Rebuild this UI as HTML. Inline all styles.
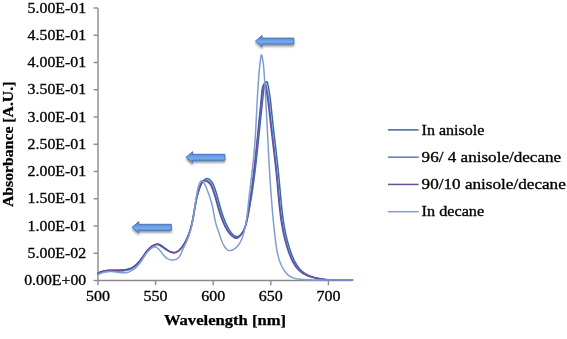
<!DOCTYPE html>
<html lang="en"><head><meta charset="utf-8"><title>Absorbance spectra</title>
<style>html,body{margin:0;padding:0;background:#fff;}body{width:567px;height:339px;overflow:hidden;}svg{display:block;}</style>
</head><body>
<svg width="567" height="339" viewBox="0 0 567 339">
<defs>
<linearGradient id="ag" x1="0" y1="0" x2="0" y2="1"><stop offset="0" stop-color="#3f7dd2"/><stop offset="0.55" stop-color="#78a8e8"/><stop offset="1" stop-color="#5c93dc"/></linearGradient>
<filter id="sh" x="-20%" y="-40%" width="140%" height="220%"><feGaussianBlur in="SourceAlpha" stdDeviation="1.3"/><feOffset dx="0" dy="2"/><feComponentTransfer><feFuncA type="linear" slope="0.42"/></feComponentTransfer><feMerge><feMergeNode/><feMergeNode in="SourceGraphic"/></feMerge></filter>
</defs>
<rect width="567" height="339" fill="#fff"/>
<g stroke="#8a8a8a" stroke-width="1.4" fill="none">
<path d="M98.0,7.9 V280.5 H352"/>
<path d="M93.6,8.0 H98.0"/>
<path d="M93.6,35.25 H98.0"/>
<path d="M93.6,62.5 H98.0"/>
<path d="M93.6,89.75 H98.0"/>
<path d="M93.6,117.0 H98.0"/>
<path d="M93.6,144.25 H98.0"/>
<path d="M93.6,171.5 H98.0"/>
<path d="M93.6,198.75 H98.0"/>
<path d="M93.6,226.0 H98.0"/>
<path d="M93.6,253.25 H98.0"/>
<path d="M93.6,280.5 H98.0"/>
<path d="M98.0,280.5 V285.2"/>
<path d="M155.6,280.5 V285.2"/>
<path d="M213.2,280.5 V285.2"/>
<path d="M270.8,280.5 V285.2"/>
<path d="M328.4,280.5 V285.2"/>
</g>
<g font-family="'Liberation Serif', serif" font-size="14" fill="#000" stroke="#000" stroke-width="0.3">
<text x="86.2" y="12.6" text-anchor="end" textLength="58.6" lengthAdjust="spacingAndGlyphs">5.00E-01</text>
<text x="86.2" y="39.9" text-anchor="end" textLength="58.6" lengthAdjust="spacingAndGlyphs">4.50E-01</text>
<text x="86.2" y="67.1" text-anchor="end" textLength="58.6" lengthAdjust="spacingAndGlyphs">4.00E-01</text>
<text x="86.2" y="94.3" text-anchor="end" textLength="58.6" lengthAdjust="spacingAndGlyphs">3.50E-01</text>
<text x="86.2" y="121.6" text-anchor="end" textLength="58.6" lengthAdjust="spacingAndGlyphs">3.00E-01</text>
<text x="86.2" y="148.8" text-anchor="end" textLength="58.6" lengthAdjust="spacingAndGlyphs">2.50E-01</text>
<text x="86.2" y="176.1" text-anchor="end" textLength="58.6" lengthAdjust="spacingAndGlyphs">2.00E-01</text>
<text x="86.2" y="203.3" text-anchor="end" textLength="58.6" lengthAdjust="spacingAndGlyphs">1.50E-01</text>
<text x="86.2" y="230.6" text-anchor="end" textLength="58.6" lengthAdjust="spacingAndGlyphs">1.00E-01</text>
<text x="86.2" y="257.9" text-anchor="end" textLength="58.6" lengthAdjust="spacingAndGlyphs">5.00E-02</text>
<text x="86.2" y="285.1" text-anchor="end" textLength="62.0" lengthAdjust="spacingAndGlyphs">0.00E+00</text>
<text x="98.0" y="300.7" text-anchor="middle" textLength="24.0" lengthAdjust="spacingAndGlyphs">500</text>
<text x="155.6" y="300.7" text-anchor="middle" textLength="24.0" lengthAdjust="spacingAndGlyphs">550</text>
<text x="213.2" y="300.7" text-anchor="middle" textLength="24.0" lengthAdjust="spacingAndGlyphs">600</text>
<text x="270.8" y="300.7" text-anchor="middle" textLength="24.0" lengthAdjust="spacingAndGlyphs">650</text>
<text x="328.4" y="300.7" text-anchor="middle" textLength="24.0" lengthAdjust="spacingAndGlyphs">700</text>
</g>
<g font-family="'Liberation Serif', serif" font-size="14" font-weight="bold" fill="#000" stroke="#000" stroke-width="0.25">
<text x="163.9" y="324.8" textLength="122.2" lengthAdjust="spacingAndGlyphs">Wavelength [nm]</text>
<text transform="translate(13.3,207.0) rotate(-90)" x="0" y="0" textLength="125.4" lengthAdjust="spacingAndGlyphs">Absorbance [A.U.]</text>
</g>
<g fill="none" stroke-width="1.5" stroke-linejoin="round" stroke-linecap="round">
<path stroke="#3a68a6" d="M97.68,273.30 L98.57,272.84 L99.46,272.43 L100.34,272.06 L101.24,271.74 L102.13,271.45 L103.02,271.21 L103.92,271.00 L104.82,270.82 L105.73,270.67 L106.63,270.55 L107.54,270.45 L108.45,270.37 L109.36,270.31 L110.28,270.27 L111.19,270.24 L112.12,270.23 L113.04,270.22 L113.97,270.21 L114.89,270.21 L115.83,270.21 L116.76,270.21 L117.70,270.20 L118.64,270.19 L119.58,270.16 L120.53,270.12 L121.48,270.07 L122.42,270.00 L123.37,269.91 L124.31,269.79 L125.24,269.66 L126.17,269.50 L127.08,269.31 L127.98,269.09 L128.87,268.84 L129.74,268.55 L130.59,268.23 L131.42,267.87 L132.23,267.47 L133.01,267.03 L133.77,266.55 L134.51,266.03 L135.22,265.48 L135.92,264.90 L136.60,264.28 L137.26,263.64 L137.90,262.97 L138.54,262.28 L139.15,261.56 L139.76,260.83 L140.36,260.09 L140.94,259.33 L141.52,258.56 L142.09,257.78 L142.66,257.00 L143.22,256.21 L143.78,255.43 L144.33,254.64 L144.89,253.86 L145.45,253.08 L146.01,252.31 L146.58,251.56 L147.16,250.82 L147.76,250.10 L148.37,249.40 L148.99,248.73 L149.64,248.09 L150.31,247.47 L151.01,246.89 L151.74,246.35 L152.50,245.85 L153.30,245.40 L154.13,244.99 L155.00,244.63 L155.92,244.33 L156.84,244.12 L157.73,244.04 L158.56,244.12 L159.35,244.34 L160.11,244.67 L160.86,245.11 L161.60,245.62 L162.37,246.17 L163.15,246.76 L163.96,247.37 L164.79,247.98 L165.64,248.60 L166.49,249.20 L167.36,249.79 L168.23,250.34 L169.11,250.85 L169.98,251.31 L170.85,251.70 L171.72,252.02 L172.57,252.26 L173.41,252.40 L174.23,252.44 L175.03,252.37 L175.81,252.19 L176.58,251.92 L177.32,251.56 L178.04,251.13 L178.75,250.61 L179.43,250.04 L180.09,249.40 L180.74,248.72 L181.36,247.99 L181.97,247.23 L182.55,246.45 L183.12,245.64 L183.66,244.82 L184.19,244.00 L184.70,243.17 L185.18,242.34 L185.65,241.50 L186.10,240.66 L186.54,239.82 L186.95,238.97 L187.36,238.12 L187.74,237.26 L188.11,236.40 L188.47,235.54 L188.81,234.68 L189.14,233.81 L189.45,232.93 L189.75,232.06 L190.04,231.18 L190.32,230.30 L190.59,229.41 L190.84,228.53 L191.09,227.64 L191.33,226.75 L191.56,225.85 L191.77,224.96 L191.99,224.06 L192.19,223.16 L192.39,222.25 L192.58,221.35 L192.76,220.45 L192.94,219.54 L193.11,218.63 L193.28,217.72 L193.45,216.81 L193.61,215.90 L193.77,214.98 L193.93,214.07 L194.08,213.15 L194.23,212.24 L194.39,211.32 L194.54,210.41 L194.69,209.49 L194.84,208.57 L195.00,207.65 L195.16,206.74 L195.31,205.82 L195.48,204.90 L195.64,203.99 L195.81,203.07 L195.98,202.16 L196.16,201.24 L196.35,200.33 L196.54,199.42 L196.74,198.51 L196.95,197.60 L197.16,196.69 L197.38,195.79 L197.62,194.89 L197.86,193.98 L198.11,193.09 L198.37,192.19 L198.65,191.29 L198.94,190.40 L199.24,189.51 L199.55,188.63 L199.88,187.75 L200.22,186.87 L200.57,185.99 L200.95,185.12 L201.33,184.25 L201.75,183.39 L202.20,182.55 L202.70,181.75 L203.25,180.99 L203.88,180.27 L204.59,179.63 L205.35,179.10 L206.15,178.73 L206.96,178.58 L207.78,178.67 L208.57,178.98 L209.34,179.46 L210.07,180.06 L210.74,180.73 L211.35,181.45 L211.91,182.21 L212.42,183.00 L212.88,183.83 L213.31,184.68 L213.71,185.55 L214.07,186.43 L214.42,187.33 L214.74,188.23 L215.06,189.13 L215.36,190.03 L215.66,190.93 L215.95,191.83 L216.23,192.73 L216.50,193.63 L216.77,194.52 L217.03,195.42 L217.28,196.31 L217.53,197.20 L217.78,198.10 L218.03,198.99 L218.27,199.88 L218.51,200.77 L218.75,201.66 L218.99,202.55 L219.22,203.44 L219.46,204.33 L219.71,205.22 L219.95,206.11 L220.20,207.00 L220.45,207.89 L220.70,208.78 L220.96,209.67 L221.23,210.56 L221.50,211.45 L221.78,212.34 L222.06,213.23 L222.35,214.12 L222.65,215.01 L222.96,215.89 L223.27,216.77 L223.59,217.65 L223.92,218.52 L224.25,219.40 L224.60,220.26 L224.95,221.13 L225.31,221.99 L225.68,222.84 L226.06,223.69 L226.45,224.53 L226.85,225.37 L227.26,226.20 L227.68,227.02 L228.12,227.84 L228.56,228.65 L229.01,229.45 L229.49,230.24 L229.99,231.02 L230.53,231.78 L231.11,232.52 L231.74,233.24 L232.44,233.94 L233.19,234.62 L234.01,235.26 L234.88,235.81 L235.77,236.24 L236.65,236.50 L237.51,236.54 L238.33,236.35 L239.10,235.95 L239.82,235.40 L240.50,234.75 L241.14,234.04 L241.73,233.32 L242.29,232.57 L242.81,231.81 L243.29,231.02 L243.74,230.22 L244.15,229.40 L244.54,228.57 L244.90,227.73 L245.23,226.87 L245.54,226.00 L245.83,225.12 L246.10,224.23 L246.36,223.34 L246.59,222.43 L246.82,221.53 L247.03,220.61 L247.23,219.69 L247.43,218.77 L247.62,217.85 L247.81,216.93 L247.99,216.01 L248.18,215.09 L248.36,214.17 L248.54,213.24 L248.72,212.32 L248.89,211.40 L249.07,210.48 L249.24,209.56 L249.41,208.64 L249.58,207.72 L249.74,206.80 L249.91,205.88 L250.07,204.96 L250.23,204.04 L250.39,203.12 L250.55,202.20 L250.71,201.28 L250.86,200.36 L251.01,199.45 L251.16,198.53 L251.31,197.61 L251.46,196.69 L251.60,195.77 L251.75,194.85 L251.89,193.93 L252.03,193.01 L252.17,192.09 L252.31,191.17 L252.45,190.26 L252.58,189.34 L252.72,188.42 L252.85,187.50 L252.98,186.58 L253.11,185.66 L253.24,184.74 L253.37,183.82 L253.50,182.90 L253.62,181.98 L253.75,181.07 L253.87,180.15 L253.99,179.23 L254.11,178.31 L254.23,177.39 L254.35,176.47 L254.47,175.55 L254.59,174.63 L254.70,173.71 L254.82,172.79 L254.93,171.87 L255.04,170.95 L255.16,170.03 L255.27,169.10 L255.38,168.18 L255.49,167.26 L255.60,166.34 L255.70,165.42 L255.81,164.50 L255.92,163.58 L256.02,162.65 L256.13,161.73 L256.23,160.81 L256.34,159.89 L256.44,158.96 L256.54,158.04 L256.65,157.12 L256.75,156.19 L256.85,155.27 L256.95,154.34 L257.05,153.42 L257.15,152.49 L257.25,151.57 L257.35,150.64 L257.45,149.72 L257.55,148.79 L257.65,147.86 L257.75,146.94 L257.84,146.01 L257.94,145.08 L258.04,144.16 L258.14,143.23 L258.23,142.30 L258.33,141.37 L258.43,140.45 L258.52,139.52 L258.62,138.59 L258.72,137.66 L258.81,136.74 L258.91,135.81 L259.00,134.88 L259.10,133.95 L259.19,133.03 L259.29,132.10 L259.38,131.17 L259.48,130.24 L259.57,129.32 L259.67,128.39 L259.76,127.46 L259.86,126.54 L259.95,125.61 L260.05,124.68 L260.15,123.76 L260.24,122.83 L260.34,121.91 L260.43,120.98 L260.53,120.06 L260.62,119.13 L260.72,118.21 L260.82,117.29 L260.91,116.36 L261.01,115.44 L261.11,114.52 L261.20,113.60 L261.30,112.68 L261.40,111.76 L261.49,110.84 L261.59,109.92 L261.69,109.00 L261.79,108.08 L261.89,107.16 L261.99,106.24 L262.08,105.32 L262.18,104.40 L262.28,103.48 L262.38,102.56 L262.47,101.64 L262.57,100.72 L262.66,99.80 L262.76,98.87 L262.85,97.94 L262.94,97.01 L263.03,96.08 L263.12,95.15 L263.21,94.22 L263.30,93.28 L263.40,92.34 L263.51,91.40 L263.63,90.45 L263.77,89.50 L263.94,88.55 L264.13,87.60 L264.35,86.65 L264.62,85.69 L264.92,84.73 L265.26,83.79 L265.63,82.92 L266.01,82.22 L266.38,81.76 L266.73,81.64 L267.04,81.87 L267.32,82.40 L267.57,83.15 L267.80,84.07 L268.01,85.07 L268.22,86.09 L268.41,87.10 L268.60,88.10 L268.78,89.10 L268.95,90.09 L269.12,91.08 L269.28,92.06 L269.43,93.03 L269.58,94.00 L269.72,94.96 L269.86,95.91 L269.99,96.86 L270.12,97.81 L270.24,98.75 L270.36,99.69 L270.47,100.63 L270.58,101.56 L270.69,102.48 L270.79,103.41 L270.89,104.33 L270.99,105.25 L271.09,106.17 L271.19,107.08 L271.28,108.00 L271.37,108.91 L271.47,109.82 L271.56,110.73 L271.65,111.64 L271.74,112.55 L271.83,113.46 L271.92,114.37 L272.02,115.28 L272.11,116.19 L272.21,117.11 L272.30,118.02 L272.40,118.93 L272.50,119.84 L272.60,120.76 L272.70,121.67 L272.80,122.59 L272.90,123.50 L273.00,124.42 L273.10,125.34 L273.20,126.25 L273.31,127.17 L273.41,128.09 L273.51,129.01 L273.62,129.93 L273.72,130.84 L273.83,131.76 L273.93,132.68 L274.04,133.60 L274.15,134.53 L274.25,135.45 L274.36,136.37 L274.47,137.29 L274.57,138.21 L274.68,139.13 L274.79,140.06 L274.90,140.98 L275.00,141.90 L275.11,142.83 L275.22,143.75 L275.33,144.68 L275.44,145.60 L275.54,146.53 L275.65,147.45 L275.76,148.38 L275.87,149.30 L275.98,150.23 L276.08,151.15 L276.19,152.08 L276.30,153.01 L276.40,153.93 L276.51,154.86 L276.62,155.79 L276.72,156.72 L276.83,157.64 L276.93,158.57 L277.04,159.50 L277.14,160.43 L277.24,161.36 L277.35,162.28 L277.45,163.21 L277.55,164.14 L277.65,165.07 L277.75,166.00 L277.85,166.93 L277.95,167.86 L278.05,168.78 L278.15,169.71 L278.24,170.64 L278.34,171.57 L278.43,172.50 L278.53,173.43 L278.62,174.36 L278.71,175.29 L278.80,176.22 L278.90,177.15 L278.98,178.08 L279.07,179.01 L279.16,179.94 L279.25,180.87 L279.33,181.79 L279.42,182.72 L279.50,183.65 L279.58,184.58 L279.66,185.51 L279.75,186.44 L279.83,187.37 L279.91,188.30 L279.99,189.23 L280.07,190.15 L280.15,191.08 L280.23,192.01 L280.31,192.94 L280.39,193.87 L280.48,194.79 L280.56,195.72 L280.64,196.65 L280.72,197.57 L280.81,198.50 L280.89,199.43 L280.98,200.35 L281.07,201.28 L281.16,202.20 L281.25,203.13 L281.34,204.05 L281.43,204.98 L281.53,205.90 L281.62,206.82 L281.72,207.75 L281.82,208.67 L281.92,209.59 L282.03,210.51 L282.13,211.44 L282.24,212.36 L282.35,213.28 L282.47,214.20 L282.58,215.12 L282.70,216.04 L282.83,216.96 L282.95,217.87 L283.08,218.79 L283.21,219.71 L283.35,220.63 L283.48,221.54 L283.62,222.46 L283.77,223.37 L283.92,224.29 L284.07,225.20 L284.23,226.11 L284.39,227.03 L284.55,227.94 L284.72,228.85 L284.89,229.76 L285.07,230.67 L285.25,231.58 L285.44,232.49 L285.63,233.40 L285.82,234.30 L286.02,235.21 L286.23,236.12 L286.44,237.02 L286.65,237.92 L286.88,238.83 L287.10,239.73 L287.33,240.63 L287.57,241.53 L287.81,242.43 L288.06,243.33 L288.32,244.23 L288.58,245.13 L288.85,246.03 L289.12,246.92 L289.40,247.82 L289.68,248.71 L289.98,249.60 L290.28,250.50 L290.58,251.39 L290.89,252.28 L291.21,253.17 L291.54,254.05 L291.88,254.94 L292.22,255.82 L292.57,256.69 L292.94,257.57 L293.31,258.43 L293.70,259.29 L294.10,260.13 L294.51,260.97 L294.94,261.80 L295.38,262.61 L295.84,263.42 L296.32,264.21 L296.81,264.98 L297.32,265.74 L297.84,266.49 L298.39,267.21 L298.95,267.92 L299.54,268.61 L300.15,269.28 L300.78,269.93 L301.43,270.55 L302.11,271.15 L302.81,271.73 L303.53,272.28 L304.28,272.81 L305.05,273.31 L305.85,273.79 L306.66,274.25 L307.49,274.68 L308.34,275.09 L309.21,275.48 L310.09,275.84 L310.98,276.19 L311.89,276.52 L312.80,276.82 L313.72,277.11 L314.65,277.38 L315.58,277.64 L316.51,277.87 L317.45,278.09 L318.39,278.30 L319.32,278.49 L320.26,278.67 L321.19,278.83 L322.11,278.98 L323.04,279.11 L323.96,279.24 L324.88,279.35 L325.80,279.46 L326.71,279.55 L327.63,279.63 L328.54,279.70 L329.45,279.77 L330.36,279.82 L331.27,279.87 L332.18,279.91 L333.09,279.94 L334.00,279.97 L334.92,279.99 L335.83,280.01 L336.74,280.02 L337.65,280.03 L338.57,280.03 L339.48,280.03 L340.40,280.03 L341.32,280.02 L342.25,280.02 L343.17,280.01 L344.10,280.00 L345.03,279.99 L345.97,279.99 L346.90,279.98 L347.85,279.98 L348.79,279.97 L349.74,279.97 L350.70,279.98 L351.66,279.98 L352.62,279.99"/>
<path stroke="#4a80c6" d="M97.68,274.20 L98.56,273.74 L99.45,273.33 L100.34,272.97 L101.22,272.65 L102.11,272.37 L103.01,272.12 L103.90,271.92 L104.80,271.74 L105.70,271.59 L106.61,271.47 L107.51,271.38 L108.42,271.30 L109.33,271.25 L110.24,271.21 L111.16,271.18 L112.08,271.17 L113.00,271.16 L113.92,271.16 L114.85,271.16 L115.78,271.16 L116.71,271.16 L117.64,271.16 L118.58,271.15 L119.52,271.12 L120.47,271.09 L121.41,271.03 L122.36,270.96 L123.30,270.88 L124.24,270.77 L125.17,270.63 L126.09,270.47 L127.00,270.29 L127.90,270.07 L128.78,269.82 L129.65,269.54 L130.50,269.20 L131.33,268.81 L132.13,268.38 L132.91,267.91 L133.67,267.40 L134.41,266.86 L135.12,266.28 L135.82,265.66 L136.49,265.02 L137.15,264.36 L137.80,263.66 L138.43,262.95 L139.04,262.21 L139.65,261.46 L140.24,260.69 L140.83,259.91 L141.40,259.12 L141.97,258.32 L142.54,257.52 L143.10,256.71 L143.65,255.90 L144.21,255.09 L144.76,254.29 L145.32,253.50 L145.88,252.72 L146.45,251.96 L147.03,251.21 L147.62,250.48 L148.23,249.77 L148.85,249.09 L149.50,248.43 L150.16,247.81 L150.82,247.23 L151.51,246.69 L152.23,246.19 L152.98,245.73 L153.77,245.32 L154.60,244.96 L155.46,244.65 L156.34,244.44 L157.18,244.36 L158.01,244.44 L158.82,244.64 L159.60,244.96 L160.36,245.38 L161.12,245.88 L161.90,246.44 L162.70,247.02 L163.53,247.62 L164.37,248.24 L165.23,248.85 L166.11,249.45 L166.99,250.03 L167.88,250.58 L168.78,251.09 L169.67,251.54 L170.56,251.93 L171.44,252.25 L172.31,252.48 L173.16,252.62 L174.00,252.65 L174.82,252.58 L175.60,252.40 L176.37,252.12 L177.11,251.75 L177.83,251.31 L178.54,250.79 L179.22,250.20 L179.88,249.56 L180.53,248.87 L181.15,248.14 L181.76,247.37 L182.34,246.58 L182.91,245.77 L183.45,244.94 L183.98,244.12 L184.49,243.28 L184.97,242.45 L185.44,241.60 L185.89,240.76 L186.33,239.91 L186.74,239.06 L187.15,238.20 L187.53,237.34 L187.90,236.48 L188.26,235.61 L188.60,234.74 L188.93,233.87 L189.24,232.99 L189.54,232.12 L189.83,231.23 L190.11,230.35 L190.38,229.46 L190.63,228.57 L190.88,227.68 L191.12,226.79 L191.35,225.89 L191.56,224.99 L191.78,224.09 L191.98,223.19 L192.18,222.28 L192.37,221.38 L192.55,220.47 L192.73,219.56 L192.90,218.65 L193.07,217.74 L193.24,216.83 L193.40,215.91 L193.56,215.00 L193.72,214.08 L193.87,213.17 L194.02,212.25 L194.18,211.33 L194.33,210.41 L194.48,209.49 L194.63,208.58 L194.79,207.66 L194.94,206.74 L195.09,205.83 L195.25,204.92 L195.40,204.02 L195.57,203.11 L195.73,202.21 L195.91,201.31 L196.08,200.41 L196.27,199.51 L196.46,198.61 L196.65,197.72 L196.86,196.82 L197.07,195.93 L197.30,195.05 L197.53,194.16 L197.77,193.28 L198.02,192.40 L198.29,191.52 L198.56,190.65 L198.85,189.78 L199.15,188.92 L199.46,188.06 L199.77,187.20 L200.07,186.36 L200.39,185.56 L200.73,184.78 L201.08,184.01 L201.47,183.26 L201.90,182.57 L202.38,181.92 L202.92,181.34 L203.52,180.84 L204.18,180.47 L204.88,180.28 L205.67,180.32 L206.45,180.41 L207.22,180.59 L207.96,180.94 L208.67,181.41 L209.32,181.97 L209.91,182.59 L210.46,183.26 L210.95,183.98 L211.40,184.73 L211.82,185.52 L212.20,186.33 L212.56,187.16 L212.89,188.00 L213.21,188.86 L213.52,189.71 L213.83,190.56 L214.13,191.42 L214.42,192.27 L214.70,193.13 L214.98,193.98 L215.25,194.88 L215.51,195.77 L215.77,196.67 L216.02,197.57 L216.27,198.47 L216.52,199.36 L216.76,200.26 L217.01,201.16 L217.25,202.05 L217.49,202.94 L217.73,203.84 L217.97,204.73 L218.22,205.63 L218.46,206.52 L218.71,207.41 L218.97,208.31 L219.22,209.20 L219.49,210.10 L219.76,210.99 L220.03,211.89 L220.31,212.78 L220.60,213.67 L220.89,214.57 L221.19,215.46 L221.50,216.34 L221.82,217.23 L222.14,218.11 L222.47,219.00 L222.81,219.87 L223.16,220.75 L223.52,221.62 L223.88,222.48 L224.26,223.34 L224.64,224.20 L225.04,225.05 L225.44,225.89 L225.86,226.73 L226.28,227.56 L226.73,228.38 L227.21,229.20 L227.70,230.01 L228.22,230.82 L228.76,231.65 L229.35,232.47 L229.98,233.27 L230.67,234.06 L231.42,234.83 L232.25,235.59 L233.14,236.31 L234.08,236.96 L235.05,237.48 L236.01,237.83 L236.93,237.76 L237.82,237.46 L238.65,236.97 L239.43,236.33 L240.17,235.59 L240.86,234.81 L241.50,234.01 L242.07,233.19 L242.59,232.36 L243.06,231.52 L243.50,230.66 L243.91,229.79 L244.30,228.91 L244.65,228.02 L244.98,227.13 L245.29,226.22 L245.57,225.30 L245.84,224.38 L246.08,223.45 L246.32,222.52 L246.54,221.58 L246.75,220.64 L246.94,219.70 L247.12,218.77 L247.30,217.85 L247.47,216.93 L247.65,216.01 L247.82,215.09 L247.99,214.17 L248.15,213.24 L248.32,212.32 L248.48,211.40 L248.64,210.48 L248.80,209.56 L248.96,208.64 L249.12,207.72 L249.27,206.80 L249.43,205.88 L249.58,204.96 L249.73,204.04 L249.87,203.12 L250.02,202.20 L250.17,201.28 L250.31,200.36 L250.45,199.45 L250.59,198.53 L250.73,197.61 L250.87,196.69 L251.00,195.77 L251.14,194.85 L251.27,193.93 L251.40,193.01 L251.53,192.09 L251.66,191.17 L251.79,190.26 L251.91,189.34 L252.04,188.42 L252.16,187.50 L252.28,186.58 L252.41,185.66 L252.53,184.74 L252.64,183.82 L252.76,182.90 L252.88,181.98 L252.99,181.07 L253.11,180.15 L253.22,179.23 L253.33,178.31 L253.45,177.39 L253.56,176.47 L253.67,175.55 L253.77,174.63 L253.88,173.71 L253.99,172.79 L254.10,171.87 L254.20,170.95 L254.31,170.03 L254.42,169.10 L254.53,168.18 L254.63,167.26 L254.74,166.34 L254.84,165.42 L254.95,164.50 L255.05,163.58 L255.15,162.67 L255.26,161.75 L255.36,160.84 L255.46,159.92 L255.56,159.01 L255.66,158.09 L255.76,157.18 L255.86,156.26 L255.96,155.34 L256.05,154.43 L256.15,153.51 L256.25,152.59 L256.35,151.68 L256.44,150.76 L256.54,149.84 L256.63,148.92 L256.73,148.00 L256.82,147.08 L256.92,146.16 L257.01,145.25 L257.11,144.33 L257.20,143.41 L257.30,142.49 L257.39,141.57 L257.48,140.65 L257.58,139.73 L257.67,138.81 L257.76,137.89 L257.86,136.96 L257.95,136.04 L258.04,135.12 L258.13,134.20 L258.23,133.28 L258.32,132.36 L258.41,131.44 L258.50,130.52 L258.60,129.60 L258.69,128.69 L258.78,127.77 L258.87,126.85 L258.97,125.93 L259.06,125.01 L259.15,124.09 L259.24,123.17 L259.34,122.25 L259.43,121.34 L259.52,120.42 L259.61,119.50 L259.71,118.59 L259.80,117.67 L259.89,116.76 L259.99,115.84 L260.08,114.93 L260.18,114.01 L260.27,113.10 L260.36,112.18 L260.46,111.27 L260.55,110.36 L260.65,109.45 L260.75,108.54 L260.84,107.63 L260.94,106.72 L261.03,105.80 L261.11,104.89 L261.20,103.98 L261.29,103.07 L261.38,102.15 L261.46,101.24 L261.55,100.32 L261.64,99.40 L261.72,98.48 L261.80,97.56 L261.88,96.63 L261.97,95.71 L262.04,94.79 L262.13,93.89 L262.21,92.99 L262.31,92.08 L262.42,91.19 L262.55,90.29 L262.70,89.40 L262.88,88.52 L263.08,87.65 L263.32,86.80 L263.59,85.95 L263.90,85.13 L264.24,84.40 L264.58,83.84 L264.92,83.53 L265.25,83.54 L265.54,83.90 L265.81,84.54 L266.05,85.39 L266.27,86.39 L266.48,87.41 L266.68,88.33 L266.86,89.24 L267.04,90.16 L267.22,91.07 L267.39,91.98 L267.54,92.88 L267.70,93.78 L267.85,94.68 L267.99,95.57 L268.12,96.47 L268.26,97.36 L268.38,98.24 L268.51,99.13 L268.63,100.01 L268.75,100.88 L268.86,101.76 L268.98,102.63 L269.08,103.51 L269.19,104.38 L269.29,105.25 L269.39,106.12 L269.49,106.99 L269.59,107.85 L269.68,108.72 L269.77,109.58 L269.87,110.45 L269.96,111.31 L270.05,112.20 L270.14,113.10 L270.24,114.01 L270.33,114.91 L270.42,115.82 L270.52,116.72 L270.61,117.63 L270.71,118.54 L270.81,119.45 L270.91,120.35 L271.01,121.26 L271.11,122.17 L271.21,123.08 L271.31,123.99 L271.41,124.90 L271.51,125.81 L271.61,126.72 L271.72,127.63 L271.82,128.55 L271.93,129.46 L272.03,130.37 L272.14,131.29 L272.24,132.20 L272.35,133.11 L272.46,134.03 L272.56,134.94 L272.67,135.86 L272.78,136.77 L272.89,137.69 L273.00,138.60 L273.10,139.52 L273.21,140.44 L273.32,141.35 L273.43,142.27 L273.54,143.19 L273.65,144.11 L273.76,145.03 L273.86,145.94 L273.97,146.86 L274.08,147.78 L274.19,148.70 L274.30,149.62 L274.41,150.54 L274.52,151.46 L274.62,152.38 L274.73,153.30 L274.84,154.22 L274.94,155.14 L275.05,156.07 L275.16,156.99 L275.26,157.91 L275.37,158.83 L275.47,159.75 L275.58,160.67 L275.68,161.60 L275.79,162.52 L275.89,163.44 L275.99,164.37 L276.09,165.29 L276.19,166.21 L276.30,167.13 L276.40,168.06 L276.49,168.98 L276.59,169.90 L276.69,170.83 L276.79,171.75 L276.88,172.68 L276.98,173.60 L277.07,174.52 L277.16,175.45 L277.26,176.37 L277.35,177.30 L277.44,178.22 L277.53,179.15 L277.61,180.07 L277.70,180.99 L277.79,181.92 L277.87,182.84 L277.96,183.77 L278.04,184.69 L278.12,185.62 L278.20,186.54 L278.29,187.46 L278.37,188.39 L278.45,189.31 L278.53,190.24 L278.61,191.16 L278.69,192.08 L278.77,193.01 L278.85,193.93 L278.94,194.85 L279.02,195.77 L279.10,196.70 L279.18,197.62 L279.27,198.54 L279.35,199.46 L279.44,200.38 L279.53,201.30 L279.62,202.22 L279.71,203.14 L279.80,204.06 L279.89,204.98 L279.99,205.90 L280.08,206.82 L280.18,207.75 L280.28,208.67 L280.38,209.59 L280.49,210.51 L280.59,211.44 L280.70,212.36 L280.81,213.28 L280.93,214.20 L281.04,215.12 L281.16,216.04 L281.29,216.96 L281.41,217.87 L281.54,218.79 L281.67,219.71 L281.81,220.63 L281.94,221.54 L282.08,222.46 L282.23,223.37 L282.38,224.29 L282.53,225.20 L282.69,226.11 L282.85,227.03 L283.01,227.94 L283.18,228.85 L283.35,229.76 L283.53,230.67 L283.71,231.58 L283.90,232.49 L284.09,233.40 L284.28,234.30 L284.48,235.21 L284.69,236.12 L284.90,237.02 L285.11,237.92 L285.34,238.83 L285.56,239.73 L285.79,240.63 L286.03,241.53 L286.27,242.43 L286.52,243.33 L286.78,244.23 L287.04,245.13 L287.31,246.03 L287.58,246.92 L287.86,247.82 L288.14,248.71 L288.44,249.60 L288.74,250.50 L289.04,251.39 L289.35,252.28 L289.67,253.17 L290.00,254.05 L290.34,254.94 L290.68,255.82 L291.03,256.69 L291.40,257.57 L291.77,258.43 L292.16,259.29 L292.56,260.13 L292.97,260.97 L293.40,261.80 L293.84,262.61 L294.30,263.42 L294.78,264.21 L295.27,264.98 L295.78,265.74 L296.30,266.49 L296.85,267.21 L297.41,267.92 L298.00,268.61 L298.61,269.28 L299.24,269.93 L299.89,270.55 L300.57,271.15 L301.27,271.73 L301.99,272.28 L302.74,272.81 L303.51,273.31 L304.31,273.79 L305.12,274.25 L305.95,274.68 L306.80,275.09 L307.67,275.48 L308.55,275.84 L309.44,276.19 L310.35,276.52 L311.26,276.82 L312.18,277.11 L313.11,277.38 L314.04,277.64 L314.97,277.87 L315.91,278.09 L316.85,278.30 L317.78,278.49 L318.72,278.67 L319.65,278.83 L320.57,278.98 L321.50,279.11 L322.42,279.24 L323.34,279.35 L324.26,279.46 L325.17,279.55 L326.09,279.63 L327.00,279.70 L327.91,279.77 L328.85,279.82 L329.82,279.87 L330.79,279.91 L331.76,279.94 L332.73,279.97 L333.70,279.99 L334.68,280.01 L335.65,280.02 L336.62,280.03 L337.60,280.03 L338.58,280.03 L339.56,280.03 L340.54,280.02 L341.53,280.02 L342.51,280.01 L343.50,280.00 L344.50,279.99 L345.49,279.99 L346.50,279.98 L347.50,279.98 L348.51,279.97 L349.52,279.97 L350.54,279.98 L351.57,279.98 L352.60,279.99"/>
<path stroke="#6a4e9b" d="M97.68,273.30 L98.56,272.84 L99.45,272.43 L100.33,272.07 L101.22,271.75 L102.11,271.47 L103.00,271.23 L103.90,271.02 L104.79,270.85 L105.69,270.70 L106.59,270.58 L107.50,270.49 L108.41,270.41 L109.31,270.36 L110.23,270.32 L111.14,270.30 L112.06,270.28 L112.98,270.28 L113.90,270.28 L114.83,270.28 L115.76,270.28 L116.69,270.29 L117.62,270.28 L118.56,270.27 L119.50,270.25 L120.44,270.21 L121.38,270.16 L122.33,270.09 L123.27,270.01 L124.21,269.90 L125.14,269.76 L126.06,269.61 L126.97,269.42 L127.87,269.21 L128.75,268.96 L129.61,268.68 L130.46,268.36 L131.29,268.00 L132.09,267.61 L132.87,267.17 L133.63,266.69 L134.36,266.17 L135.08,265.62 L135.77,265.04 L136.45,264.43 L137.11,263.79 L137.75,263.12 L138.38,262.43 L138.99,261.72 L139.60,261.00 L140.19,260.25 L140.78,259.50 L141.35,258.73 L141.92,257.95 L142.48,257.17 L143.04,256.39 L143.60,255.60 L144.16,254.82 L144.71,254.04 L145.27,253.26 L145.83,252.50 L146.40,251.74 L146.97,251.01 L147.56,250.29 L148.17,249.59 L148.80,248.92 L149.44,248.28 L150.09,247.67 L150.74,247.11 L151.41,246.59 L152.11,246.11 L152.85,245.67 L153.62,245.28 L154.43,244.94 L155.27,244.66 L156.12,244.47 L156.95,244.41 L157.78,244.51 L158.59,244.73 L159.37,245.07 L160.14,245.50 L160.91,246.00 L161.69,246.55 L162.50,247.13 L163.34,247.74 L164.19,248.35 L165.06,248.96 L165.94,249.56 L166.84,250.14 L167.73,250.68 L168.63,251.19 L169.53,251.64 L170.43,252.03 L171.32,252.34 L172.20,252.58 L173.06,252.71 L173.91,252.75 L174.73,252.67 L175.51,252.49 L176.28,252.20 L177.02,251.83 L177.74,251.38 L178.45,250.86 L179.13,250.27 L179.79,249.63 L180.44,248.94 L181.06,248.20 L181.67,247.43 L182.25,246.64 L182.82,245.82 L183.36,245.00 L183.89,244.17 L184.40,243.33 L184.88,242.49 L185.35,241.65 L185.80,240.80 L186.24,239.95 L186.65,239.10 L187.06,238.24 L187.44,237.38 L187.81,236.51 L188.17,235.64 L188.51,234.77 L188.84,233.90 L189.15,233.02 L189.45,232.14 L189.74,231.26 L190.02,230.37 L190.29,229.48 L190.54,228.59 L190.79,227.70 L191.03,226.81 L191.26,225.91 L191.47,225.01 L191.69,224.11 L191.89,223.20 L192.09,222.30 L192.28,221.39 L192.46,220.48 L192.64,219.57 L192.81,218.66 L192.98,217.75 L193.15,216.84 L193.31,215.92 L193.47,215.01 L193.63,214.09 L193.78,213.17 L193.93,212.25 L194.09,211.34 L194.24,210.42 L194.39,209.50 L194.54,208.58 L194.70,207.66 L194.85,206.74 L195.00,205.82 L195.15,204.92 L195.30,204.02 L195.46,203.12 L195.63,202.22 L195.79,201.32 L195.97,200.43 L196.15,199.54 L196.34,198.64 L196.53,197.75 L196.73,196.87 L196.94,195.98 L197.16,195.10 L197.39,194.22 L197.62,193.35 L197.87,192.48 L198.13,191.61 L198.40,190.74 L198.68,189.88 L198.98,189.03 L199.28,188.17 L199.57,187.32 L199.86,186.47 L200.16,185.67 L200.47,184.91 L200.80,184.17 L201.16,183.46 L201.56,182.80 L202.00,182.19 L202.51,181.65 L203.07,181.20 L203.68,180.89 L204.34,180.75 L205.11,180.87 L205.89,181.23 L206.64,181.42 L207.37,181.72 L208.07,182.14 L208.71,182.65 L209.30,183.23 L209.83,183.85 L210.32,184.53 L210.77,185.26 L211.18,186.02 L211.56,186.81 L211.91,187.61 L212.24,188.44 L212.55,189.27 L212.86,190.10 L213.17,190.94 L213.47,191.77 L213.76,192.60 L214.05,193.44 L214.32,194.27 L214.59,195.11 L214.86,195.95 L215.12,196.81 L215.37,197.71 L215.62,198.61 L215.87,199.51 L216.12,200.41 L216.36,201.30 L216.60,202.20 L216.85,203.10 L217.09,203.99 L217.33,204.89 L217.58,205.78 L217.83,206.68 L218.08,207.58 L218.33,208.47 L218.59,209.37 L218.85,210.26 L219.12,211.16 L219.40,212.06 L219.68,212.95 L219.97,213.85 L220.27,214.74 L220.57,215.63 L220.88,216.53 L221.20,217.41 L221.52,218.30 L221.85,219.18 L222.19,220.06 L222.54,220.94 L222.90,221.81 L223.27,222.68 L223.65,223.54 L224.03,224.40 L224.43,225.25 L224.84,226.10 L225.25,226.94 L225.68,227.77 L226.13,228.60 L226.63,229.42 L227.14,230.23 L227.67,231.03 L228.24,231.85 L228.85,232.69 L229.50,233.53 L230.21,234.35 L230.99,235.16 L231.84,235.95 L232.77,236.71 L233.74,237.40 L234.74,237.97 L235.73,238.36 L236.69,238.33 L237.60,237.98 L238.46,237.44 L239.27,236.75 L240.03,235.98 L240.74,235.15 L241.40,234.32 L241.98,233.47 L242.49,232.62 L242.96,231.75 L243.40,230.87 L243.81,229.98 L244.19,229.08 L244.54,228.17 L244.87,227.25 L245.17,226.33 L245.46,225.40 L245.72,224.46 L245.97,223.52 L246.20,222.58 L246.42,221.63 L246.63,220.68 L246.81,219.73 L246.99,218.78 L247.16,217.85 L247.33,216.93 L247.50,216.01 L247.66,215.09 L247.82,214.17 L247.99,213.24 L248.15,212.32 L248.30,211.40 L248.46,210.48 L248.62,209.56 L248.77,208.64 L248.92,207.72 L249.07,206.80 L249.22,205.88 L249.36,204.96 L249.51,204.04 L249.65,203.12 L249.79,202.20 L249.93,201.28 L250.07,200.36 L250.21,199.45 L250.35,198.53 L250.48,197.61 L250.61,196.69 L250.74,195.77 L250.87,194.85 L251.00,193.93 L251.13,193.01 L251.26,192.09 L251.38,191.17 L251.50,190.26 L251.63,189.34 L251.75,188.42 L251.87,187.50 L251.99,186.58 L252.10,185.66 L252.22,184.74 L252.33,183.82 L252.45,182.90 L252.56,181.98 L252.67,181.07 L252.78,180.15 L252.89,179.23 L253.00,178.31 L253.11,177.39 L253.22,176.47 L253.32,175.55 L253.43,174.63 L253.53,173.71 L253.63,172.79 L253.74,171.87 L253.84,170.95 L253.95,170.03 L254.06,169.10 L254.16,168.18 L254.27,167.26 L254.37,166.34 L254.47,165.42 L254.58,164.50 L254.68,163.58 L254.78,162.65 L254.88,161.73 L254.98,160.81 L255.08,159.90 L255.18,158.98 L255.28,158.07 L255.38,157.16 L255.47,156.25 L255.57,155.33 L255.67,154.42 L255.76,153.51 L255.86,152.59 L255.96,151.68 L256.05,150.76 L256.15,149.85 L256.24,148.93 L256.34,148.02 L256.43,147.10 L256.52,146.19 L256.62,145.27 L256.71,144.35 L256.80,143.44 L256.90,142.52 L256.99,141.60 L257.08,140.68 L257.17,139.77 L257.26,138.85 L257.36,137.93 L257.45,137.02 L257.54,136.10 L257.63,135.18 L257.72,134.26 L257.81,133.35 L257.90,132.43 L258.00,131.51 L258.09,130.60 L258.18,129.68 L258.27,128.76 L258.36,127.85 L258.45,126.93 L258.54,126.02 L258.63,125.10 L258.73,124.18 L258.82,123.27 L258.91,122.35 L259.00,121.44 L259.09,120.53 L259.18,119.61 L259.27,118.70 L259.37,117.79 L259.46,116.87 L259.55,115.96 L259.64,115.05 L259.74,114.14 L259.83,113.23 L259.92,112.32 L260.02,111.41 L260.11,110.50 L260.20,109.59 L260.30,108.68 L260.39,107.78 L260.49,106.87 L260.57,105.96 L260.66,105.05 L260.74,104.14 L260.83,103.23 L260.91,102.32 L260.99,101.40 L261.07,100.49 L261.15,99.57 L261.23,98.66 L261.31,97.74 L261.39,96.81 L261.47,95.89 L261.55,94.96 L261.62,94.03 L261.71,93.10 L261.80,92.17 L261.91,91.24 L262.03,90.32 L262.17,89.46 L262.34,88.60 L262.53,87.76 L262.76,86.94 L263.02,86.14 L263.32,85.36 L263.64,84.69 L263.97,84.18 L264.29,83.91 L264.61,83.98 L264.90,84.39 L265.17,85.07 L265.40,85.97 L265.62,87.01 L265.82,88.12 L266.02,89.26 L266.20,90.38 L266.38,91.49 L266.55,92.39 L266.71,93.27 L266.87,94.14 L267.02,95.01 L267.17,95.88 L267.30,96.74 L267.44,97.61 L267.57,98.47 L267.69,99.33 L267.82,100.19 L267.94,101.04 L268.06,101.89 L268.18,102.74 L268.29,103.59 L268.40,104.44 L268.50,105.29 L268.60,106.14 L268.70,106.99 L268.80,107.83 L268.90,108.68 L268.99,109.52 L269.09,110.37 L269.18,111.21 L269.27,112.06 L269.37,112.90 L269.46,113.74 L269.55,114.58 L269.64,115.43 L269.74,116.27 L269.83,117.11 L269.93,117.96 L270.03,118.82 L270.13,119.72 L270.22,120.63 L270.32,121.53 L270.42,122.44 L270.52,123.35 L270.63,124.25 L270.73,125.16 L270.83,126.07 L270.93,126.98 L271.04,127.89 L271.14,128.80 L271.25,129.71 L271.35,130.62 L271.46,131.53 L271.57,132.44 L271.67,133.35 L271.78,134.26 L271.89,135.17 L271.99,136.09 L272.10,137.00 L272.21,137.91 L272.32,138.83 L272.43,139.74 L272.54,140.65 L272.65,141.57 L272.75,142.48 L272.86,143.40 L272.97,144.31 L273.08,145.23 L273.19,146.15 L273.30,147.06 L273.41,147.98 L273.52,148.89 L273.63,149.81 L273.74,150.73 L273.84,151.65 L273.95,152.56 L274.06,153.48 L274.17,154.40 L274.27,155.32 L274.38,156.24 L274.49,157.16 L274.59,158.08 L274.70,159.00 L274.81,159.91 L274.91,160.83 L275.01,161.75 L275.12,162.67 L275.22,163.59 L275.32,164.51 L275.43,165.44 L275.53,166.36 L275.63,167.28 L275.73,168.20 L275.83,169.12 L275.93,170.04 L276.02,170.96 L276.12,171.88 L276.22,172.80 L276.31,173.73 L276.41,174.65 L276.50,175.57 L276.59,176.49 L276.68,177.41 L276.77,178.34 L276.86,179.26 L276.95,180.18 L277.04,181.10 L277.13,182.02 L277.21,182.95 L277.29,183.87 L277.38,184.79 L277.46,185.71 L277.54,186.64 L277.63,187.56 L277.71,188.48 L277.79,189.40 L277.87,190.32 L277.95,191.25 L278.03,192.17 L278.11,193.09 L278.19,194.01 L278.28,194.93 L278.36,195.85 L278.44,196.77 L278.52,197.69 L278.61,198.61 L278.69,199.53 L278.78,200.45 L278.87,201.37 L278.96,202.29 L279.05,203.20 L279.14,204.12 L279.23,205.04 L279.33,205.95 L279.42,206.87 L279.52,207.79 L279.62,208.70 L279.72,209.61 L279.83,210.53 L279.93,211.44 L280.04,212.36 L280.15,213.28 L280.27,214.20 L280.38,215.12 L280.50,216.04 L280.63,216.96 L280.75,217.87 L280.88,218.79 L281.01,219.71 L281.15,220.63 L281.28,221.54 L281.42,222.46 L281.57,223.37 L281.72,224.29 L281.87,225.20 L282.03,226.11 L282.19,227.03 L282.35,227.94 L282.52,228.85 L282.69,229.76 L282.87,230.67 L283.05,231.58 L283.24,232.49 L283.43,233.40 L283.62,234.30 L283.82,235.21 L284.03,236.12 L284.24,237.02 L284.45,237.92 L284.68,238.83 L284.90,239.73 L285.13,240.63 L285.37,241.53 L285.61,242.43 L285.86,243.33 L286.12,244.23 L286.38,245.13 L286.65,246.03 L286.92,246.92 L287.20,247.82 L287.48,248.71 L287.78,249.60 L288.08,250.50 L288.38,251.39 L288.69,252.28 L289.01,253.17 L289.34,254.05 L289.68,254.94 L290.02,255.82 L290.37,256.69 L290.74,257.57 L291.11,258.43 L291.50,259.29 L291.90,260.13 L292.31,260.97 L292.74,261.80 L293.18,262.61 L293.64,263.42 L294.12,264.21 L294.61,264.98 L295.12,265.74 L295.64,266.49 L296.19,267.21 L296.75,267.92 L297.34,268.61 L297.95,269.28 L298.58,269.93 L299.23,270.55 L299.91,271.15 L300.61,271.73 L301.33,272.28 L302.08,272.81 L302.85,273.31 L303.65,273.79 L304.46,274.25 L305.29,274.68 L306.14,275.09 L307.01,275.48 L307.89,275.84 L308.78,276.19 L309.69,276.52 L310.60,276.82 L311.52,277.11 L312.45,277.38 L313.38,277.64 L314.31,277.87 L315.25,278.09 L316.19,278.30 L317.12,278.49 L318.06,278.67 L318.99,278.83 L319.91,278.98 L320.84,279.11 L321.76,279.24 L322.68,279.35 L323.60,279.46 L324.51,279.55 L325.43,279.63 L326.34,279.70 L327.25,279.77 L328.20,279.82 L329.20,279.87 L330.19,279.91 L331.19,279.94 L332.19,279.97 L333.19,279.99 L334.18,280.01 L335.18,280.02 L336.18,280.03 L337.19,280.03 L338.19,280.03 L339.20,280.03 L340.21,280.02 L341.22,280.02 L342.23,280.01 L343.25,280.00 L344.27,279.99 L345.29,279.99 L346.32,279.98 L347.35,279.98 L348.39,279.97 L349.43,279.97 L350.48,279.98 L351.53,279.98 L352.58,279.99"/>
<path stroke="#7c9ed3" d="M97.69,274.73 L98.68,274.21 L99.68,273.73 L100.68,273.31 L101.69,272.94 L102.71,272.61 L103.73,272.33 L104.76,272.09 L105.80,271.90 L106.84,271.75 L107.88,271.64 L108.93,271.57 L109.99,271.54 L111.05,271.55 L112.12,271.59 L113.19,271.67 L114.27,271.78 L115.35,271.91 L116.43,272.07 L117.51,272.23 L118.59,272.39 L119.67,272.54 L120.75,272.67 L121.82,272.77 L122.89,272.82 L123.95,272.83 L125.00,272.78 L126.04,272.65 L127.06,272.45 L128.08,272.18 L129.08,271.84 L130.06,271.43 L131.02,270.96 L131.97,270.43 L132.89,269.86 L133.79,269.23 L134.66,268.56 L135.50,267.85 L136.32,267.11 L137.10,266.34 L137.86,265.54 L138.58,264.72 L139.26,263.88 L139.91,263.03 L140.54,262.17 L141.15,261.29 L141.74,260.41 L142.32,259.52 L142.89,258.63 L143.46,257.74 L144.03,256.86 L144.61,255.97 L145.21,255.09 L145.81,254.23 L146.45,253.37 L147.10,252.52 L147.79,251.69 L148.51,250.88 L149.28,250.10 L150.09,249.33 L150.95,248.59 L151.86,247.89 L152.80,247.31 L153.76,246.92 L154.72,246.79 L155.65,246.97 L156.57,247.39 L157.45,248.00 L158.29,248.74 L159.09,249.54 L159.85,250.38 L160.57,251.25 L161.27,252.14 L161.95,253.03 L162.63,253.91 L163.31,254.77 L164.01,255.60 L164.72,256.40 L165.47,257.14 L166.26,257.82 L167.10,258.42 L168.00,258.93 L168.96,259.35 L169.99,259.67 L171.05,259.88 L172.14,259.97 L173.24,259.96 L174.31,259.82 L175.35,259.57 L176.33,259.19 L177.23,258.69 L178.04,258.06 L178.76,257.31 L179.40,256.47 L179.98,255.55 L180.51,254.56 L181.00,253.54 L181.47,252.49 L181.92,251.44 L182.38,250.40 L182.85,249.38 L183.32,248.37 L183.79,247.38 L184.26,246.40 L184.74,245.43 L185.20,244.46 L185.67,243.50 L186.12,242.55 L186.56,241.59 L187.00,240.63 L187.41,239.66 L187.81,238.69 L188.20,237.71 L188.57,236.72 L188.92,235.73 L189.26,234.73 L189.59,233.72 L189.91,232.71 L190.21,231.70 L190.49,230.67 L190.77,229.65 L191.04,228.62 L191.29,227.58 L191.54,226.54 L191.77,225.50 L192.00,224.45 L192.22,223.40 L192.43,222.34 L192.63,221.29 L192.82,220.23 L193.01,219.17 L193.19,218.10 L193.37,217.04 L193.54,215.97 L193.71,214.90 L193.87,213.83 L194.03,212.76 L194.19,211.69 L194.34,210.62 L194.49,209.55 L194.64,208.48 L194.79,207.41 L194.94,206.34 L195.09,205.27 L195.24,204.21 L195.39,203.14 L195.55,202.08 L195.70,201.02 L195.86,199.96 L196.02,198.90 L196.19,197.85 L196.36,196.80 L196.53,195.75 L196.71,194.71 L196.90,193.67 L197.09,192.64 L197.29,191.61 L197.50,190.58 L197.72,189.54 L197.97,188.50 L198.24,187.45 L198.55,186.39 L198.88,185.30 L199.26,184.19 L199.67,183.07 L200.15,182.04 L200.70,181.27 L201.34,180.93 L202.07,181.12 L202.85,181.74 L203.60,182.59 L204.27,183.53 L204.85,184.50 L205.35,185.48 L205.80,186.48 L206.22,187.50 L206.61,188.51 L207.00,189.53 L207.38,190.54 L207.77,191.56 L208.15,192.57 L208.52,193.58 L208.89,194.60 L209.26,195.61 L209.61,196.63 L209.96,197.64 L210.29,198.66 L210.62,199.68 L210.94,200.70 L211.24,201.72 L211.53,202.75 L211.80,203.78 L212.06,204.81 L212.31,205.84 L212.54,206.88 L212.75,207.91 L212.96,208.96 L213.16,210.00 L213.35,211.04 L213.53,212.09 L213.72,213.14 L213.90,214.18 L214.09,215.23 L214.27,216.28 L214.47,217.33 L214.67,218.37 L214.89,219.42 L215.11,220.47 L215.35,221.51 L215.60,222.55 L215.88,223.59 L216.17,224.63 L216.47,225.66 L216.80,226.69 L217.13,227.72 L217.47,228.74 L217.82,229.76 L218.17,230.77 L218.53,231.77 L218.88,232.77 L219.23,233.75 L219.56,234.73 L219.89,235.70 L220.21,236.66 L220.53,237.62 L220.86,238.58 L221.20,239.54 L221.57,240.51 L221.96,241.50 L222.40,242.51 L222.88,243.54 L223.42,244.60 L224.02,245.69 L224.68,246.77 L225.40,247.80 L226.17,248.73 L226.99,249.52 L227.86,250.11 L228.76,250.48 L229.70,250.62 L230.65,250.56 L231.61,250.34 L232.56,249.97 L233.49,249.48 L234.38,248.92 L235.23,248.30 L236.02,247.63 L236.78,246.91 L237.48,246.15 L238.15,245.35 L238.78,244.51 L239.37,243.64 L239.92,242.74 L240.44,241.80 L240.92,240.84 L241.38,239.86 L241.80,238.86 L242.20,237.83 L242.58,236.79 L242.93,235.74 L243.26,234.68 L243.58,233.62 L243.87,232.55 L244.15,231.48 L244.42,230.41 L244.67,229.34 L244.91,228.27 L245.14,227.21 L245.36,226.15 L245.57,225.08 L245.77,224.03 L245.95,222.97 L246.13,221.91 L246.31,220.86 L246.47,219.80 L246.63,218.75 L246.78,217.70 L246.92,216.65 L247.06,215.60 L247.19,214.55 L247.32,213.50 L247.44,212.45 L247.56,211.40 L247.68,210.35 L247.79,209.30 L247.91,208.25 L248.02,207.20 L248.13,206.15 L248.24,205.10 L248.35,204.05 L248.46,203.00 L248.57,201.94 L248.68,200.89 L248.80,199.83 L248.91,198.78 L249.03,197.72 L249.15,196.66 L249.27,195.60 L249.39,194.54 L249.51,193.48 L249.64,192.42 L249.76,191.35 L249.88,190.29 L250.01,189.22 L250.14,188.16 L250.26,187.09 L250.39,186.03 L250.52,184.96 L250.64,183.89 L250.77,182.83 L250.90,181.76 L251.03,180.69 L251.15,179.62 L251.28,178.55 L251.41,177.48 L251.54,176.41 L251.66,175.34 L251.79,174.27 L251.91,173.20 L252.04,172.13 L252.16,171.06 L252.28,169.99 L252.41,168.92 L252.53,167.85 L252.65,166.78 L252.76,165.71 L252.88,164.64 L253.00,163.57 L253.11,162.51 L253.22,161.44 L253.34,160.37 L253.45,159.30 L253.55,158.23 L253.66,157.17 L253.76,156.10 L253.87,155.03 L253.96,153.97 L254.06,152.90 L254.16,151.84 L254.25,150.78 L254.34,149.71 L254.43,148.65 L254.52,147.59 L254.60,146.53 L254.68,145.47 L254.76,144.41 L254.84,143.35 L254.92,142.29 L254.99,141.23 L255.06,140.17 L255.13,139.11 L255.20,138.05 L255.27,136.99 L255.34,135.93 L255.40,134.87 L255.47,133.81 L255.53,132.75 L255.59,131.68 L255.65,130.62 L255.71,129.56 L255.77,128.50 L255.83,127.43 L255.89,126.37 L255.95,125.30 L256.00,124.24 L256.06,123.17 L256.11,122.10 L256.17,121.03 L256.22,119.96 L256.27,118.89 L256.33,117.82 L256.38,116.75 L256.44,115.67 L256.49,114.60 L256.54,113.52 L256.60,112.44 L256.65,111.36 L256.70,110.28 L256.76,109.19 L256.81,108.11 L256.87,107.02 L256.93,105.93 L256.98,104.84 L257.04,103.75 L257.10,102.65 L257.16,101.55 L257.22,100.45 L257.28,99.35 L257.34,98.25 L257.40,97.14 L257.47,96.04 L257.53,94.93 L257.60,93.83 L257.66,92.72 L257.73,91.62 L257.80,90.52 L257.87,89.42 L257.94,88.32 L258.01,87.23 L258.08,86.15 L258.16,85.07 L258.23,83.99 L258.31,82.92 L258.38,81.86 L258.46,80.81 L258.54,79.76 L258.61,78.72 L258.69,77.69 L258.77,76.68 L258.85,75.67 L258.94,74.67 L259.02,73.69 L259.10,72.71 L259.19,71.76 L259.27,70.81 L259.36,69.86 L259.45,68.90 L259.54,67.93 L259.65,66.93 L259.75,65.89 L259.87,64.81 L260.00,63.67 L260.13,62.47 L260.28,61.20 L260.44,59.84 L260.62,58.43 L260.81,57.07 L261.01,55.92 L261.23,55.12 L261.47,54.82 L261.72,55.11 L261.98,55.91 L262.24,57.05 L262.49,58.40 L262.72,59.82 L262.93,61.18 L263.11,62.45 L263.27,63.65 L263.41,64.79 L263.53,65.87 L263.64,66.91 L263.74,67.90 L263.82,68.87 L263.90,69.82 L263.97,70.76 L264.04,71.70 L264.11,72.65 L264.18,73.61 L264.24,74.58 L264.31,75.56 L264.38,76.55 L264.44,77.55 L264.51,78.56 L264.58,79.58 L264.64,80.61 L264.71,81.64 L264.77,82.68 L264.84,83.73 L264.90,84.79 L264.97,85.85 L265.03,86.92 L265.10,88.00 L265.16,89.08 L265.22,90.16 L265.29,91.25 L265.35,92.35 L265.41,93.45 L265.48,94.55 L265.54,95.65 L265.60,96.76 L265.66,97.87 L265.72,98.98 L265.79,100.09 L265.85,101.20 L265.91,102.31 L265.97,103.43 L266.03,104.54 L266.09,105.65 L266.15,106.76 L266.20,107.87 L266.26,108.98 L266.32,110.08 L266.38,111.19 L266.44,112.29 L266.49,113.39 L266.55,114.48 L266.61,115.57 L266.66,116.66 L266.72,117.75 L266.78,118.84 L266.83,119.93 L266.89,121.01 L266.94,122.09 L267.00,123.17 L267.05,124.25 L267.11,125.32 L267.16,126.40 L267.22,127.47 L267.27,128.54 L267.33,129.61 L267.38,130.68 L267.43,131.75 L267.49,132.82 L267.54,133.88 L267.60,134.95 L267.65,136.01 L267.70,137.07 L267.76,138.14 L267.81,139.20 L267.87,140.26 L267.92,141.32 L267.98,142.38 L268.03,143.44 L268.09,144.50 L268.14,145.57 L268.20,146.63 L268.25,147.69 L268.31,148.75 L268.36,149.81 L268.42,150.87 L268.47,151.93 L268.53,152.99 L268.59,154.05 L268.64,155.12 L268.70,156.18 L268.76,157.24 L268.82,158.31 L268.88,159.37 L268.93,160.43 L268.99,161.50 L269.05,162.56 L269.11,163.63 L269.17,164.70 L269.23,165.76 L269.29,166.83 L269.36,167.90 L269.42,168.96 L269.48,170.03 L269.54,171.10 L269.61,172.16 L269.67,173.23 L269.74,174.30 L269.80,175.37 L269.87,176.44 L269.94,177.51 L270.00,178.58 L270.07,179.65 L270.14,180.72 L270.21,181.78 L270.28,182.85 L270.35,183.92 L270.42,184.99 L270.49,186.06 L270.57,187.14 L270.64,188.21 L270.71,189.28 L270.79,190.35 L270.86,191.42 L270.94,192.49 L271.02,193.56 L271.10,194.63 L271.18,195.70 L271.26,196.77 L271.34,197.84 L271.42,198.91 L271.50,199.98 L271.59,201.05 L271.67,202.13 L271.76,203.20 L271.84,204.27 L271.93,205.34 L272.02,206.41 L272.11,207.48 L272.20,208.55 L272.29,209.62 L272.38,210.69 L272.48,211.76 L272.57,212.83 L272.67,213.90 L272.77,214.97 L272.87,216.04 L272.97,217.11 L273.07,218.18 L273.17,219.25 L273.27,220.31 L273.38,221.38 L273.48,222.45 L273.59,223.52 L273.70,224.59 L273.81,225.65 L273.92,226.72 L274.03,227.79 L274.14,228.86 L274.26,229.92 L274.37,230.99 L274.49,232.05 L274.61,233.12 L274.73,234.19 L274.85,235.25 L274.97,236.31 L275.10,237.38 L275.23,238.44 L275.35,239.51 L275.48,240.57 L275.61,241.63 L275.75,242.69 L275.88,243.75 L276.03,244.81 L276.18,245.87 L276.33,246.93 L276.50,247.99 L276.67,249.04 L276.85,250.09 L277.04,251.14 L277.25,252.19 L277.47,253.23 L277.70,254.28 L277.94,255.31 L278.21,256.35 L278.49,257.38 L278.78,258.41 L279.10,259.44 L279.43,260.46 L279.79,261.48 L280.17,262.49 L280.57,263.50 L280.99,264.51 L281.44,265.51 L281.91,266.50 L282.41,267.48 L282.94,268.44 L283.50,269.39 L284.08,270.30 L284.70,271.19 L285.34,272.05 L286.02,272.87 L286.73,273.65 L287.47,274.38 L288.25,275.06 L289.07,275.69 L289.92,276.27 L290.80,276.78 L291.73,277.23 L292.68,277.63 L293.66,277.97 L294.67,278.28 L295.69,278.54 L296.74,278.76 L297.81,278.95 L298.89,279.10 L299.98,279.23 L301.08,279.34 L302.18,279.43 L303.28,279.51 L304.39,279.58 L305.49,279.64 L306.59,279.69 L307.68,279.74 L308.77,279.79 L309.85,279.83 L310.94,279.87 L312.02,279.90 L313.09,279.93 L314.16,279.95 L315.23,279.98 L316.30,279.99 L317.37,280.01 L318.43,280.02 L319.49,280.03 L320.55,280.04 L321.61,280.05 L322.67,280.05 L323.72,280.05 L324.78,280.05 L325.83,280.05 L326.89,280.04 L327.94,280.04 L328.99,280.03 L330.05,280.02 L331.10,280.02 L332.16,280.01 L333.22,280.00 L334.27,279.99 L335.33,279.98 L336.39,279.97 L337.46,279.96 L338.52,279.96 L339.59,279.95 L340.66,279.94 L341.73,279.94 L342.80,279.94 L343.88,279.94 L344.96,279.94 L346.04,279.94 L347.13,279.94 L348.22,279.95 L349.31,279.96 L350.41,279.97 L351.52,279.99 L352.62,280.00"/>
</g>
<path filter="url(#sh)" fill="url(#ag)" stroke="#3d71b8" stroke-width="0.9" stroke-linejoin="miter" d="M255.4,41.1 L262.0,35.5 V38.1 H293.8 V44.1 H262.0 V46.7 Z"/>
<path filter="url(#sh)" fill="url(#ag)" stroke="#3d71b8" stroke-width="0.9" stroke-linejoin="miter" d="M186.0,157.3 L192.6,151.70000000000002 V154.3 H224.9 V160.3 H192.6 V162.9 Z"/>
<path filter="url(#sh)" fill="url(#ag)" stroke="#3d71b8" stroke-width="0.9" stroke-linejoin="miter" d="M132.1,227.3 L138.7,221.70000000000002 V224.3 H171.3 V230.3 H138.7 V232.9 Z"/>
<g font-family="'Liberation Serif', serif" font-size="14" fill="#000" stroke="#000" stroke-width="0.3">
<path d="M388,129.90 H418.6" stroke="#3a68a6" stroke-width="1.5" fill="none"/>
<text x="421.6" y="134.5" textLength="62.7" lengthAdjust="spacingAndGlyphs" xml:space="preserve">In anisole</text>
<path d="M388,157.17 H418.6" stroke="#4a80c6" stroke-width="1.5" fill="none"/>
<text x="421.6" y="161.8" textLength="139.6" lengthAdjust="spacingAndGlyphs" xml:space="preserve">96/ 4 anisole/decane</text>
<path d="M388,184.44 H418.6" stroke="#6a4e9b" stroke-width="1.5" fill="none"/>
<text x="421.6" y="189.0" textLength="144.2" lengthAdjust="spacingAndGlyphs" xml:space="preserve">90/10 anisole/decane</text>
<path d="M388,211.71 H418.6" stroke="#7c9ed3" stroke-width="1.5" fill="none"/>
<text x="421.6" y="216.3" textLength="62.6" lengthAdjust="spacingAndGlyphs" xml:space="preserve">In decane</text>
</g>
</svg>
</body></html>
